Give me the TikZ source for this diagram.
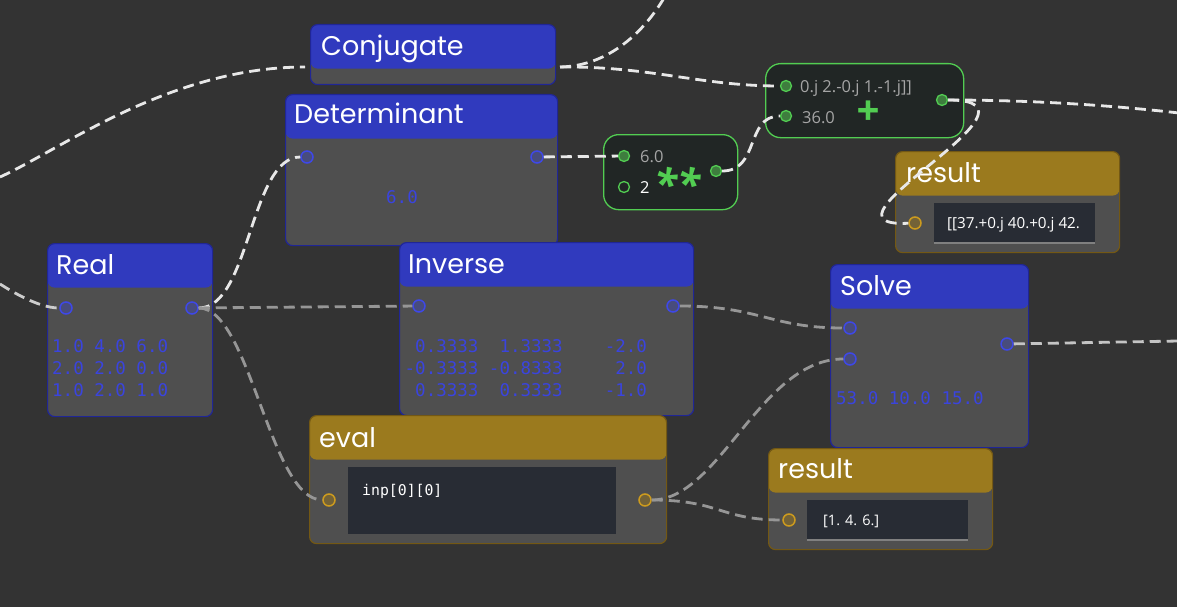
\documentclass[tikz,border=0pt]{standalone}
\usepackage{fontspec}
\usepackage{xcolor}
\newfontfamily\titlefont{Poppins}
\newfontfamily\valfont{DejaVu Sans Mono}
\newfontfamily\uifont{Open Sans}
\definecolor{CanvasGray}{RGB}{51,51,51}
\definecolor{BodyGray}{RGB}{79,79,79}
\definecolor{HeadBlue}{RGB}{48,58,190}
\definecolor{EdgeBlue}{RGB}{32,38,150}
\definecolor{HeadGold}{RGB}{155,122,30}
\definecolor{EdgeGold}{RGB}{115,88,20}
\definecolor{PortBlue}{RGB}{62,72,232}
\definecolor{PortBlueFill}{RGB}{72,76,125}
\definecolor{PortGold}{RGB}{205,155,30}
\definecolor{PortGoldFill}{RGB}{115,98,55}
\definecolor{ValBlue}{RGB}{58,68,222}
\definecolor{BoxDark}{RGB}{40,44,52}
\definecolor{OpGreen}{RGB}{82,205,82}
\definecolor{OpFill}{RGB}{33,38,37}
\definecolor{OpPort}{RGB}{62,125,62}
\definecolor{WireWhite}{RGB}{232,232,232}
\definecolor{WireGray}{RGB}{150,150,150}
\definecolor{LabelGray}{RGB}{165,165,165}

\begin{document}
\begin{tikzpicture}[x=1pt,y=-1pt,
card/.style={rectangle,rounded corners=7pt,fill=BodyGray,line width=1.2pt,anchor=north west,inner sep=0pt},
bluecard/.style={card,draw=EdgeBlue,path picture={\fill[HeadBlue] (path picture bounding box.north west) rectangle ([yshift=-44pt]path picture bounding box.north east);}},
goldcard/.style={card,draw=EdgeGold,path picture={\fill[HeadGold] (path picture bounding box.north west) rectangle ([yshift=-44pt]path picture bounding box.north east);}},
cardtitle/.style={anchor=base west,inner sep=0pt,text=white,font=\titlefont\fontsize{27}{30}\selectfont},
vals/.style={anchor=west,inner sep=0pt,align=left,text=ValBlue,font=\valfont\fontsize{17.5}{21.7}\selectfont},
textbox/.style={rectangle,fill=BoxDark,anchor=north west,inner sep=0pt},
opbox/.style={rectangle,rounded corners=15pt,draw=OpGreen,fill=OpFill,line width=1.3pt,anchor=north west,inner sep=0pt},
oplabel/.style={anchor=west,inner sep=0pt,text=LabelGray,font=\uifont\fontsize{16.5}{19}\selectfont},
opsign/.style={inner sep=0pt,text=OpGreen,font=\uifont\bfseries\itshape\fontsize{42}{44}\selectfont},
bport/.style={circle,draw=PortBlue,fill=PortBlueFill,line width=1.5pt,minimum size=12pt,inner sep=0pt},
gport/.style={circle,draw=PortGold,fill=PortGoldFill,line width=1.5pt,minimum size=12pt,inner sep=0pt},
oport/.style={circle,draw=OpGreen,fill=OpPort,line width=1.3pt,minimum size=11pt,inner sep=0pt},
wire/.style={dash pattern=on 11pt off 6pt,line width=2.8pt,draw=WireWhite},
graywire/.style={wire,draw=WireGray}
]
\fill[CanvasGray] (0,0) rectangle (1177,607);
\useasboundingbox (0,0) rectangle (1177,607);

% cards
\node[bluecard,minimum width=245pt,minimum height=60pt] (conj) at (310,24) {};
\node[cardtitle] at (321,56) {Conjugate};
\node[bluecard,minimum width=272pt,minimum height=151pt] (det) at (285,94) {};
\node[cardtitle] at (294,124) {Determinant};
\node[vals] at (386,197) {6.0};
\node[bluecard,minimum width=165pt,minimum height=173pt] (real) at (47,243) {};
\node[cardtitle] at (56,274) {Real};
\node[vals] at (52,368) {1.0 4.0 6.0\\2.0 2.0 0.0\\1.0 2.0 1.0};
\node[bluecard,minimum width=294pt,minimum height=173pt] (inv) at (399,242) {};
\node[cardtitle] at (408,273) {Inverse};
\node[vals] at (404.5,368) {~0.3333~~1.3333~~~~-2.0\\-0.3333~-0.8333~~~~~2.0\\~0.3333~~0.3333~~~~-1.0};
\node[goldcard,minimum width=357pt,minimum height=128pt] (eval) at (309,415) {};
\node[cardtitle] at (319,447) {eval};
\node[textbox,minimum width=268pt,minimum height=67pt] (evalbox) at (348,467) {};
\node[anchor=west,inner sep=0pt,text=white,font=\valfont\fontsize{14.8}{17}\selectfont] at (362,491) {inp[0][0]};
\node[bluecard,minimum width=198pt,minimum height=183pt] (solve) at (830,264) {};
\node[cardtitle] at (840,295) {Solve};
\node[vals] at (836,398) {53.0 10.0 15.0};
\node[goldcard,minimum width=224pt,minimum height=101pt] (resB) at (768,448) {};
\node[cardtitle] at (778,478) {result};
\node[textbox,minimum width=161pt,minimum height=40pt] (resBbox) at (807,500) {};
\draw[gray,line width=2pt] (resBbox.south west) -- (resBbox.south east);
\node[anchor=west,inner sep=0pt,text=white,font=\uifont\fontsize{14.5}{17}\selectfont] at (823,521) {[1. 4. 6.]};
\node[goldcard,minimum width=224pt,minimum height=101pt] (resA) at (895,151) {};
\node[cardtitle] at (906,182) {result};
\node[textbox,minimum width=161pt,minimum height=40pt] (resAbox) at (934,203) {};
\draw[gray,line width=2pt] (resAbox.south west) -- (resAbox.south east);
\node[anchor=west,inner sep=0pt,text=white,font=\uifont\fontsize{15.2}{17}\selectfont] at (947,225) {[[37.+0.j 40.+0.j 42.};

% operators
\node[opbox,minimum width=134pt,minimum height=75pt] (pow) at (603,134) {};
\node[oplabel] at (640,157) {6.0};
\node[oplabel,text=white] at (640,188) {2};
\node[opsign] at (677,183) {**};
\node[opbox,minimum width=198pt,minimum height=74pt] (plus) at (765,63) {};
\node[oplabel] at (800,88) {0.j 2.-0.j 1.-1.j]]};
\node[oplabel] at (802,118) {36.0};
\node[opsign] at (868,113) {+};

% ports
\node[bport] (detin) at (307,157) {};
\node[bport] (detout) at (537,157) {};
\node[bport] (realin) at (66,308) {};
\node[bport] (realout) at (192,308) {};
\node[bport] (invin) at (419,306) {};
\node[bport] (invout) at (673,306) {};
\node[bport] (solvein1) at (850,328) {};
\node[bport] (solvein2) at (850,359) {};
\node[bport] (solveout) at (1007,344) {};
\node[gport] (evalin) at (329,500) {};
\node[gport] (evalout) at (645,500) {};
\node[gport] (resAin) at (915,223) {};
\node[gport] (resBin) at (789,520) {};
\node[oport] (powin1) at (624,156) {};
\node[oport,fill=OpFill] (powin2) at (624,187) {};
\node[oport] (powout) at (716,171) {};
\node[oport] (plusin1) at (786,86) {};
\node[oport] (plusin2) at (786,116) {};
\node[oport] (plusout) at (942,100) {};
\coordinate (conjin) at (305,67);
\coordinate (conjout) at (560,67);
\coordinate (offleftA) at (0,177);
\coordinate (offleftB) at (0,284);
\coordinate (offtop) at (664,-2);
\coordinate (offrightA) at (1179,113);
\coordinate (offrightB) at (1179,341);

% wires
\draw[wire] (offleftA) .. controls (60,150) and (170,67) .. (conjin);
\draw[wire] (conjout) .. controls (610,66) and (645,30) .. (offtop);
\draw[wire] (conjout) .. controls (650,66) and (700,86) .. (plusin1);
\draw[wire] (detout) -- (powin1);
\draw[wire] (powout) .. controls (760,171) and (745,116) .. (plusin2);
\draw[wire] (plusout) .. controls (1020,100) and (1100,104) .. (offrightA);
\draw[wire] (plusout) .. controls (1065,100) and (800,228) .. (resAin);
\draw[wire] (realout) .. controls (250,308) and (250,157) .. (detin);
\draw[wire,draw=WireWhite!85!CanvasGray] (offleftB) .. controls (25,300) and (45,308) .. (realin);
\draw[graywire] (realout) -- (invin);
\draw[graywire] (realout) .. controls (250,308) and (270,500) .. (evalin);
\draw[graywire] (invout) .. controls (760,306) and (770,328) .. (solvein1);
\draw[graywire] (evalout) .. controls (720,500) and (760,359) .. (solvein2);
\draw[graywire] (evalout) .. controls (720,500) and (720,520) .. (resBin);
\draw[graywire,draw=WireWhite!80!CanvasGray] (solveout) -- (offrightB);
\end{tikzpicture}
\end{document}
